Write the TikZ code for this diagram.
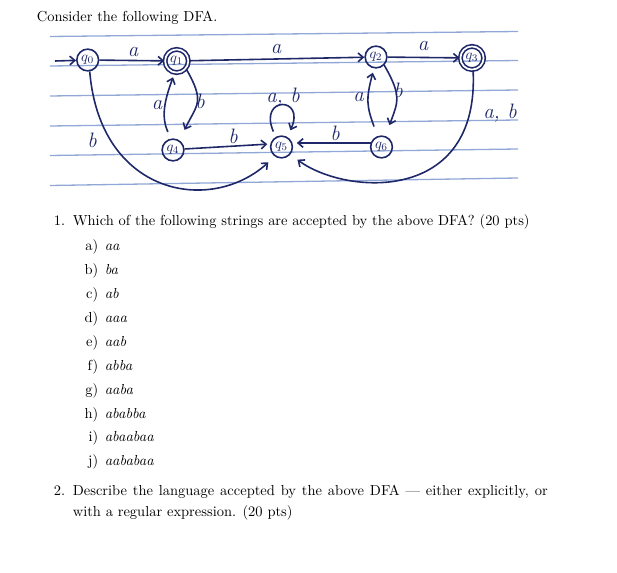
\documentclass[tikz,border=0pt]{standalone}
\usetikzlibrary{arrows.meta}
\definecolor{ink}{RGB}{30,40,105}
\definecolor{paperline}{RGB}{145,168,215}

\begin{document}
\begin{tikzpicture}[
  x=0.69pt,
  y=-0.69pt,
  every node/.style={inner sep=0pt},
  dfastate/.style={circle, draw=ink, line width=1.1pt, minimum size=15pt, inner sep=0pt, text=ink, font=\normalsize},
  finalstate/.style={dfastate, double, double distance=1.2pt, minimum size=16pt},
  trans/.style={draw=ink, line width=1.1pt, -{Straight Barb[length=3.5pt,width=6pt]}},
  hand/.style={text=ink, font=\Large\itshape, inner sep=1pt}
]
\useasboundingbox (0,0) rectangle (617,573);

\node[anchor=base west] (intro) at (36.5,21.7) {Consider the following DFA.};

% ruled paper
\foreach \yl/\yr in {36.5/31.5, 66/60.5, 96/90, 126/120, 155.5/149, 185.5/178} {
  \draw[paperline, line width=0.9pt] (50,\yl) -- (518,\yr);
}

% states
\node[dfastate] (q0) at (87.7,60) {$q_0$};
\node[finalstate] (q1) at (176.7,61) {$q_1$};
\node[dfastate] (q2) at (376,57) {$q_2$};
\node[finalstate] (q3) at (472,58) {$q_3$};
\node[dfastate] (q4) at (173,150) {$q_4$};
\node[dfastate] (q5) at (281.5,147) {$q_5$};
\node[dfastate] (q6) at (381.5,147) {$q_6$};

\coordinate (start) at (55,61);
\draw[trans] (start) -- (q0);

% top row
\draw[trans] (q0) -- (q1);
\node[hand] (a01) at (133,52) {a};
\draw[trans] (q1) -- (q2);
\node[hand] (a12) at (276,49) {a};
\draw[trans] (q2) -- (q3);
\node[hand] (a23) at (423,46) {a};

% q1 and q4
\draw[trans, shorten >=8pt] (q1.-40) to[out=-60, in=65, looseness=1.4] (q4.55);
\node[hand] (b14) at (200,101) {b};
\draw[trans, shorten <=5pt, shorten >=3pt] (q4.100) to[out=115, in=-110] (q1.-100);
\node[hand] (a41) at (157,105) {a};

% q2 and q6
\draw[trans, shorten >=8pt] (q2.-45) to[out=-60, in=70, looseness=1.3] (q6.70);
\node[hand] (b26) at (398,90) {b};
\draw[trans, shorten <=7pt, shorten >=3pt] (q6.110) to[out=110, in=-105, looseness=1.2] (q2.-100);
\node[hand] (a62) at (358.5,97) {a};

% into q5
\draw[trans, shorten >=2pt] (q4.5) -- (q5.165);
\node[hand] (b45) at (233,136) {b};
\draw[trans, shorten >=3pt] (q6.160) -- (q5.20);
\node[hand] (b65) at (335,133) {b};
\draw[trans, shorten <=4pt, shorten >=5pt] (q5.120) .. controls (258,96) and (306,96) .. (q5.60);
\node[hand] (ab55) at (283,97) {a, b};
\draw[trans, shorten >=6pt] (q0.-80) .. controls (100,195) and (210,215) .. (q5.-125);
\node[hand] (b05) at (92,140) {b};
\draw[trans, shorten >=6pt] (q3.-85) .. controls (480,205) and (345,195) .. (q5.-40);
\node[hand] (ab35) at (500,113) {a, b};

% questions
\node[anchor=base east] (n1) at (65.5,225.7) {1.};
\node[anchor=base west] (ask1) at (72.5,225.7) {Which of the following strings are accepted by the above DFA? (20 pts)};
\foreach \k/\s [count=\i from 0] in {a/aa, b/ba, c/ab, d/aaa, e/aab, f/abba, g/aaba, h/ababba, i/abaabaa, j/aababaa} {
  \node[anchor=base east] (lab\k) at (98.5,{250.7+23.9*\i}) {\k)};
  \node[anchor=base west] (str\k) at (104.5,{250.7+23.9*\i}) {\textit{\s}};
}
\node[anchor=base east] (n2) at (65.5,495) {2.};
\node[anchor=base west] (ask2) at (72.5,495) {\makebox[327.8pt][s]{Describe the language accepted by the above DFA --- either explicitly, or}};
\node[anchor=base west] (ask2b) at (72.5,516.7) {with a regular expression. (20 pts)};
\end{tikzpicture}
\end{document}
